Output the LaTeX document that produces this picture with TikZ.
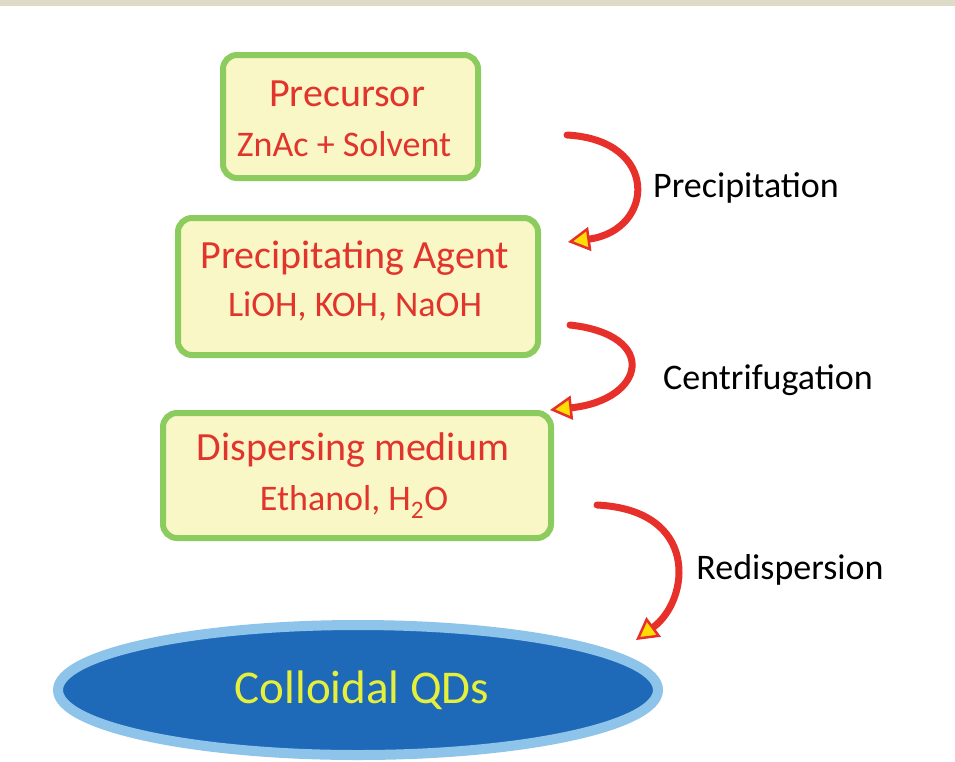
\documentclass[tikz,border=0pt]{standalone}
\usepackage{fontspec}
\setmainfont{Carlito}
\usetikzlibrary{arrows.meta,shapes.geometric}
\definecolor{boxfill}{HTML}{FAF7C6}
\definecolor{boxline}{HTML}{8CCB5E}
\definecolor{txtred}{HTML}{E0342C}
\definecolor{arrred}{HTML}{E8302A}
\definecolor{qdblue}{HTML}{1F6AB8}
\definecolor{qdline}{HTML}{8EC3EA}
\definecolor{qdtext}{HTML}{E6F03A}
\definecolor{strip}{HTML}{DEDBC9}
\begin{document}
\begin{tikzpicture}[x=1pt,y=-1pt,
  stepbox/.style={draw=boxline,line width=6pt,fill=boxfill,rounded corners=14pt,anchor=north west,inner sep=0pt},
  curv/.style={draw=arrred,line width=7pt,line cap=round,-{Triangle[length=22pt,width=24pt,fill=yellow!80!orange,color=arrred,line width=2.5pt]}},
  lbl/.style={font=\fontsize{36}{40}\selectfont,text=black}]
\useasboundingbox (0,0) rectangle (955,761);
\fill[strip] (0,0) rectangle (955,6);
\node[stepbox,minimum width=255pt,minimum height=123pt] (b1) at (220,52) {};
\node[stepbox,minimum width=360pt,minimum height=137pt] (b2) at (175,215) {};
\node[stepbox,minimum width=388pt,minimum height=125pt] (b3) at (160,410) {};
\node[text=txtred,font=\fontsize{40}{44}\selectfont] (t1) at (347,94) {Precursor};
\node[text=txtred,font=\fontsize{36}{40}\selectfont] (s1) at (344,144) {ZnAc + Solvent};
\node[text=txtred,font=\fontsize{40}{44}\selectfont] (t2) at (355,258) {Precipitating Agent};
\node[text=txtred,font=\fontsize{36}{40}\selectfont] (s2) at (355,306) {LiOH, KOH, NaOH};
\node[text=txtred,font=\fontsize{40}{44}\selectfont] (t3) at (353,450) {Dispersing medium};
\node[text=txtred,font=\fontsize{36}{40}\selectfont] (s3) at (354,502) {Ethanol, H\textsubscript{2}O};
\node[draw=qdline,line width=10pt,fill=qdblue,ellipse,minimum width=600pt,minimum height=130pt] (qd) at (358,690) {};
\node[text=qdtext,font=\fontsize{47}{50}\selectfont] (qt) at (362,690) {Colloidal QDs};
\coordinate (a1s) at (567,135); \coordinate (a1e) at (568,242);
\coordinate (a2s) at (570,325); \coordinate (a2e) at (550,410);
\coordinate (a3s) at (597,505); \coordinate (a3e) at (636,640);
\draw[curv] (a1s) .. controls (660,140) and (655,230) .. (a1e);
\draw[curv] (a2s) .. controls (660,335) and (645,400) .. (a2e);
\draw[curv] (a3s) .. controls (700,510) and (690,600) .. (a3e);
\node[lbl] (l1) at (746,188) {Precipitation};
\node[lbl] (l2) at (768,380) {Centrifugation};
\node[lbl] (l3) at (790,570) {Redispersion};
\end{tikzpicture}
\end{document}
